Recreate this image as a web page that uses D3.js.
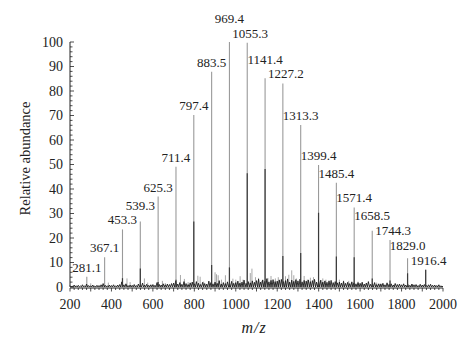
<!DOCTYPE html>
<html>
<head>
<meta charset="utf-8">
<script src="https://cdn.jsdelivr.net/npm/d3@7"></script>
<style>
  html, body { margin: 0; padding: 0; background: #fff; }
  svg text { font-family: "Liberation Serif", "DejaVu Serif", serif; fill: #222; }
</style>
</head>
<body>
<div id="chart"></div>
<script>
// --- DATA ---
// labelled peaks (m/z) and their relative abundance, grey trace
const peakMz = [281.1, 367.1, 453.3, 539.3, 625.3, 711.4, 797.4, 883.5, 969.4, 1055.3,
                1141.4, 1227.2, 1313.3, 1399.4, 1485.4, 1571.4, 1658.5, 1744.3, 1829.0, 1916.4];
const peakGrey = [4.2, 12.1, 23.5, 26.7, 36.9, 49.1, 70.2, 87.9, 100, 99.7,
                  85.2, 83.1, 66.1, 49.8, 42.6, 32.5, 23.0, 19.2, 11.7, 7.0];
// same peaks in the dark (overlaid) trace
const peakDark = [0, 0, 3.6, 7.6, 2.0, 3.0, 26.7, 9.0, 8.0, 46.4,
                  48.2, 12.7, 13.9, 30.3, 12.4, 12.1, 3.5, 2.7, 5.6, 7.0];

// small grey peaks between the main ones
const minorMz = [300, 385, 475, 490, 559, 575, 646, 660, 733, 752,
                 770, 817, 828, 845, 900, 907, 915, 931, 950, 986,
                 1000, 1021, 1035, 1070, 1078, 1095, 1110, 1125, 1155, 1170,
                 1191, 1205, 1240, 1256, 1270, 1280, 1292, 1330, 1345, 1360,
                 1375, 1420, 1435, 1450, 1500, 1520, 1545, 1590, 1610, 1680,
                 1700, 1765, 1850];
const minorH = [1.5, 1.8, 3.5, 2.0, 3.5, 1.8, 2.5, 1.6, 4.9, 3.3,
                2.0, 4.6, 4.2, 2.2, 6.0, 5.2, 4.8, 3.0, 4.8, 3.4,
                3.0, 4.4, 3.0, 5.7, 7.5, 4.0, 3.7, 2.5, 3.7, 4.5,
                3.5, 4.0, 4.4, 5.0, 6.8, 4.8, 3.5, 4.5, 3.0, 3.8,
                4.0, 3.5, 3.0, 2.8, 3.0, 2.6, 2.5, 2.2, 2.0, 1.8,
                1.5, 1.4, 1.2];

// dark baseline noise, one value every 10 m/z from 200 to 2000
const noiseStart = 200, noiseStep = 10;
const noiseH = [
  0.6,0.4,0.8,0.5,0.7,0.4,0.9,0.5,1.2,0.6,
  0.5,0.8,0.4,0.7,0.6,0.9,1.4,0.7,0.5,0.8,
  0.6,0.9,0.5,0.8,1.0,2.1,0.9,1.3,0.6,0.8,
  0.7,1.0,0.6,1.2,0.9,1.6,0.8,1.1,0.7,0.9,
  1.0,0.7,1.8,1.1,0.8,1.3,0.9,1.2,1.0,1.4,
  1.6,2.4,1.2,1.8,1.1,2.2,1.4,1.0,1.7,2.0,
  1.3,2.2,1.5,1.0,1.9,1.4,1.2,2.4,1.8,1.3,
  2.0,1.5,2.6,1.2,1.8,1.4,2.1,1.6,2.3,1.5,
  1.8,2.4,1.6,2.0,2.8,1.5,2.2,1.7,2.5,1.9,
  2.6,3.2,2.0,2.9,2.3,3.4,2.1,2.7,3.0,2.2,
  2.4,2.9,3.1,2.2,2.6,3.3,2.0,2.8,2.3,3.0,
  2.5,3.2,2.1,2.7,2.4,2.9,2.2,2.6,3.1,2.0,
  2.3,2.8,2.0,2.5,1.9,2.4,2.7,1.8,2.2,1.7,
  2.0,1.6,2.3,1.5,1.9,1.4,2.1,1.7,1.3,1.8,
  1.5,1.9,1.2,1.6,2.2,1.1,1.4,1.8,1.0,1.3,
  1.2,1.5,0.9,1.7,1.1,1.3,0.8,1.4,1.0,1.2,
  0.9,1.3,0.8,1.1,0.7,1.2,0.9,1.0,0.6,1.1,
  0.8,1.0,0.6,0.9,1.1,0.7,0.8,0.6,0.9,0.5,
  0.4];

const xTicks = [200, 400, 600, 800, 1000, 1200, 1400, 1600, 1800, 2000];
const yTicks = [0, 10, 20, 30, 40, 50, 60, 70, 80, 90, 100];

// --- SETUP ---
const width = 474, height = 351;
const svg = d3.select("#chart").append("svg")
    .attr("width", width).attr("height", height);

const x = d3.scaleLinear().domain([200, 2000]).range([70, 443]);
const y = d3.scaleLinear().domain([0, 100]).range([287, 42]);

const peaks = peakMz.map((m, i) => ({ mz: m, grey: peakGrey[i], dark: peakDark[i] }));
const minors = minorMz.map((m, i) => ({ mz: m, h: minorH[i] }));
const noise = noiseH.map((h, i) => ({ mz: noiseStart + i * noiseStep, h: h }));

// grey trace: minor peaks then main peaks
svg.append("g").selectAll("line").data(minors).join("line")
    .attr("x1", d => x(d.mz)).attr("x2", d => x(d.mz))
    .attr("y1", y(0)).attr("y2", d => y(d.h))
    .attr("stroke", "#a8a8a8").attr("stroke-width", 1);

svg.append("g").selectAll("line").data(peaks).join("line")
    .attr("x1", d => x(d.mz)).attr("x2", d => x(d.mz))
    .attr("y1", y(0)).attr("y2", d => y(d.grey))
    .attr("stroke", "#9a9a9a").attr("stroke-width", 1.1);

// dark trace: noisy baseline + shorter peaks
const line = d3.line().x(d => x(d.mz)).y(d => y(d.h));
const zig = [];
noise.forEach((d, i) => {
    zig.push(d);
    if (i < noise.length - 1) zig.push({ mz: d.mz + noiseStep / 2, h: 0 });
});
svg.append("path").datum(zig)
    .attr("d", line)
    .attr("fill", "none").attr("stroke", "#1a1a1a").attr("stroke-width", 0.9);

svg.append("g").selectAll("line").data(peaks.filter(d => d.dark > 0)).join("line")
    .attr("x1", d => x(d.mz)).attr("x2", d => x(d.mz))
    .attr("y1", y(0)).attr("y2", d => y(d.dark))
    .attr("stroke", "#3a3a3a").attr("stroke-width", 1.2);

// peak labels
const labels = svg.append("g").selectAll("text").data(peaks).join("text")
    .attr("text-anchor", "middle")
    .style("font-size", "13px")
    .text(d => d.mz.toFixed(1));

// default: just above the peak; when two neighbours collide the taller
// peak's label goes up and the other one slides a little to the side
const gap = 14.5;
labels.each(function(d) {
    d.lx = x(d.mz);
    d.ly = y(d.grey) - 5;
    d.w = this.getComputedTextLength();
});
for (let i = 0; i < peaks.length - 1; i++) {
    const a = peaks[i], b = peaks[i + 1];
    const hOverlap = (b.lx - b.w / 2) < (a.lx + a.w / 2) + 1;
    if (hOverlap && Math.abs(a.ly - b.ly) < gap) {
        if (a.grey >= b.grey) { a.ly = b.ly - gap; b.lx += 3; }
        else { b.ly = a.ly - gap; }
    }
}
labels.attr("x", d => d.lx).attr("y", d => d.ly);

// --- AXES ---
const yAxis = svg.append("g").attr("transform", `translate(${x(200)},0)`);
yAxis.append("line").attr("y1", y(0)).attr("y2", y(100)).attr("stroke", "#222");
yAxis.selectAll("line.minor").data(d3.range(0, 101, 2)).join("line")
    .attr("class", "minor")
    .attr("x1", 0).attr("x2", d => d % 10 === 0 ? 4 : 2.5)
    .attr("y1", d => y(d)).attr("y2", d => y(d))
    .attr("stroke", "#222").attr("stroke-width", 0.8);
yAxis.selectAll("text").data(yTicks).join("text")
    .attr("x", -7).attr("y", d => y(d)).attr("dy", "0.35em")
    .attr("text-anchor", "end")
    .style("font-size", "14px")
    .text(d => d);

const xAxis = svg.append("g").attr("transform", `translate(0,${y(0) + 1})`);
xAxis.append("line").attr("x1", x(200)).attr("x2", x(2000)).attr("stroke", "#222");
xAxis.selectAll("line.tick").data(d3.range(200, 2001, 20)).join("line")
    .attr("class", "tick")
    .attr("x1", d => x(d)).attr("x2", d => x(d))
    .attr("y1", 0).attr("y2", d => d % 100 === 0 ? 3.5 : 2)
    .attr("stroke", "#222").attr("stroke-width", 0.8);
xAxis.selectAll("text").data(xTicks).join("text")
    .attr("x", d => x(d)).attr("y", 16)
    .attr("dy", "0.35em")
    .attr("text-anchor", "middle")
    .style("font-size", "14px")
    .text(d => d);

// axis titles
svg.append("text")
    .attr("transform", `translate(25,${(y(0) + y(100)) / 2 - 6}) rotate(-90)`)
    .attr("text-anchor", "middle").attr("dy", "0.35em")
    .style("font-size", "14.5px")
    .text("Relative abundance");

svg.append("text")
    .attr("x", 254).attr("y", 327).attr("dy", "0.35em")
    .attr("text-anchor", "middle")
    .style("font-size", "16px").style("font-style", "italic")
    .style("letter-spacing", "1px")
    .text("m/z");
</script>
</body>
</html>
